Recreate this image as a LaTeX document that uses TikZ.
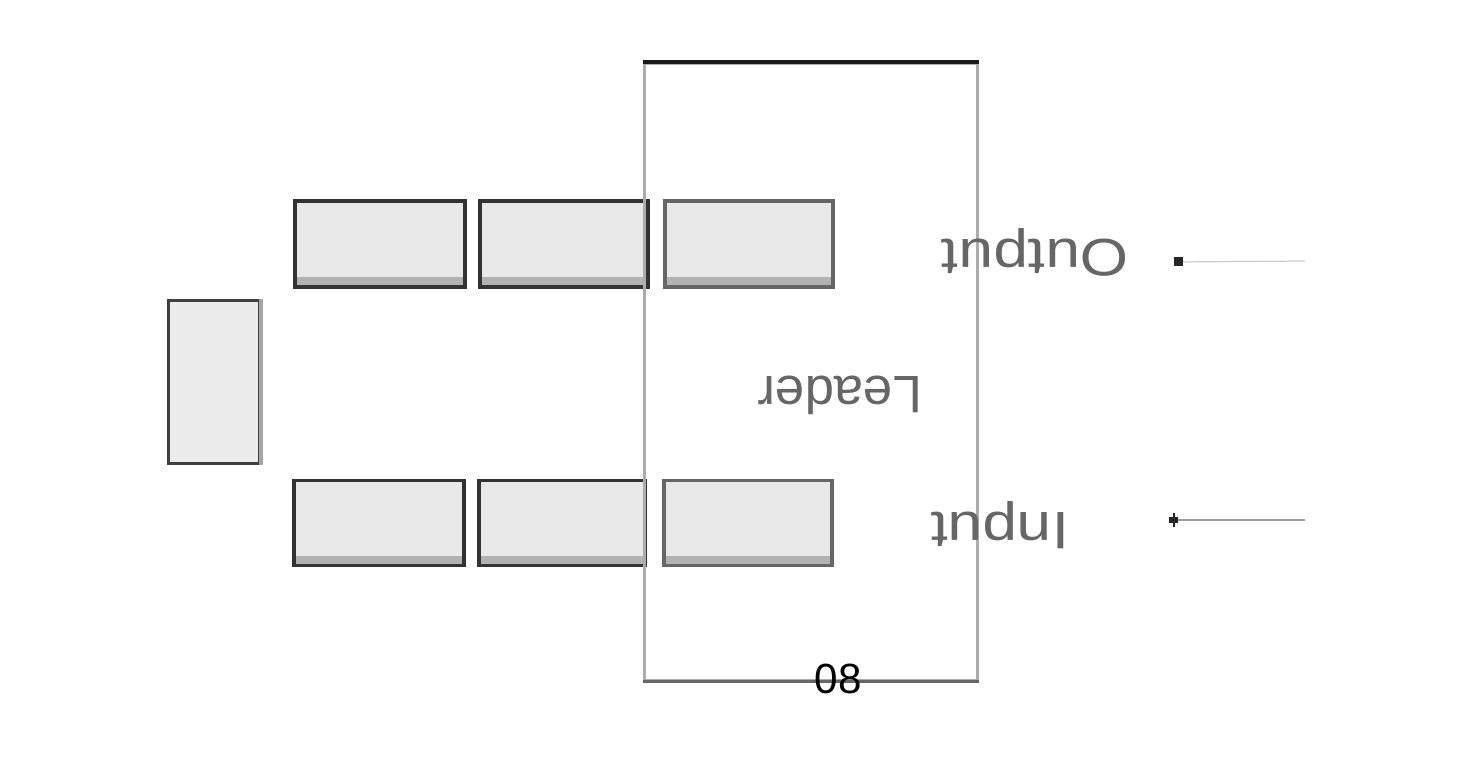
\documentclass[tikz,border=0pt]{standalone}
\usepackage{fontspec}
\setmainfont{Liberation Sans}
\begin{document}
\begin{tikzpicture}[x=0.01cm,y=-0.01cm,
  sbox/.style={draw=black!80, line width=1.05pt, fill=gray!18, inner sep=0pt,
    path picture={\fill[gray!60] (path picture bounding box.south west) rectangle ([yshift=0.10cm]path picture bounding box.south east);}},
  vbox/.style={draw=black!75, line width=1.05pt, fill=gray!15, inner sep=0pt},
  lbl/.style={text=black!60, font=\fontsize{15}{18}\selectfont, inner sep=0pt},
  thinline/.style={draw=gray!40, line width=0.35pt},
  darkline/.style={draw=gray!75, line width=0.8pt}
]
\path[use as bounding box, fill=white] (0,0) rectangle (1473,765);
% horizontal boxes, top row
\node[sbox, minimum width=1.70cm, minimum height=0.86cm] (a1) at (380,244) {};
\node[sbox, minimum width=1.68cm, minimum height=0.86cm] (a2) at (564,244) {};
\node[sbox, draw=black!60, minimum width=1.68cm, minimum height=0.86cm] (a3) at (749,244) {};
% bottom row
\node[sbox, minimum width=1.70cm, minimum height=0.85cm] (b1) at (379,523) {};
\node[sbox, minimum width=1.66cm, minimum height=0.85cm] (b2) at (562,523) {};
\node[sbox, draw=black!60, minimum width=1.68cm, minimum height=0.85cm] (b3) at (748,523) {};
% vertical box
\node[vbox, minimum width=0.91cm, minimum height=1.63cm] (v) at (214,382) {};
\draw[gray!70, line width=1.2pt] (v.north east) -- (v.south east);
% big box
\node[draw=gray!65, line width=0.85pt, minimum width=3.32cm, minimum height=6.16cm, inner sep=0pt] (big) at (811,372) {};
\draw[black!90, line width=1.2pt] (big.north west) -- (big.north east);
\draw[black!60, line width=0.9pt] (big.south west) -- (big.south east);
% labels (printed upside down)
\node[lbl, rotate=180, xscale=1.18] (out) at (1035,252) {Output};
\node[lbl, rotate=180] (lead) at (840,395) {Leader};
\node[lbl, rotate=180, xscale=1.18] (in) at (1000,525) {Input};
\node[font=\fontsize{12}{14}\selectfont, inner sep=0pt] (num) at (838,679) {08};
% arrows
\coordinate (oe) at (1305,261);
\coordinate (os) at (1178,262);
\draw[thinline] (oe) -- (os);
\fill[black!85] ([xshift=-0.04cm,yshift=-0.04cm]os) rectangle ([xshift=0.05cm,yshift=0.05cm]os);
\coordinate (ie) at (1305,520);
\coordinate (is) at (1170,520);
\draw[darkline] (ie) -- (is);
\fill[black!85] ([xshift=-0.01cm,yshift=-0.03cm]is) rectangle ([xshift=0.08cm,yshift=0.03cm]is);
\draw[black!85, line width=0.6pt] ([xshift=0.04cm,yshift=-0.07cm]is) -- ([xshift=0.04cm,yshift=0.07cm]is);
\end{tikzpicture}
\end{document}
